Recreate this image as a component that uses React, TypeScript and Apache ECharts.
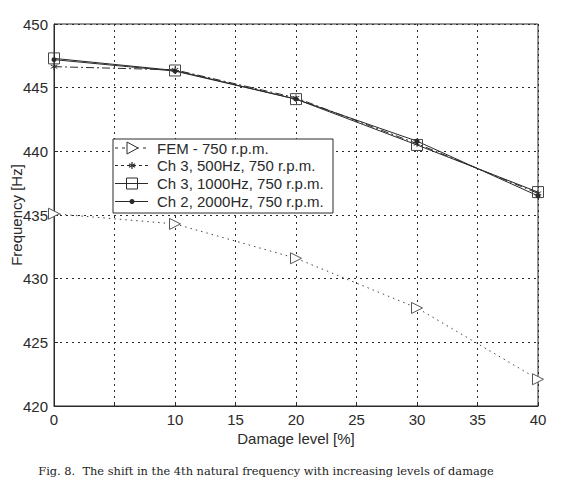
import React, { useEffect, useRef } from "react";
import * as echarts from "echarts";

// Damage levels in percent
const damageLevels = [0, 10, 20, 30, 40];

// 4th natural frequency [Hz] for each data set
const femValues = [435.1, 434.3, 431.6, 427.7, 422.1];
const ch3At500Hz = [446.65, 446.4, 444.2, 440.6, 436.7];
const ch3At1000Hz = [447.3, 446.35, 444.1, 440.5, 436.8];
const ch2At2000Hz = [447.2, 446.3, 444.1, 440.8, 436.5];

const seriesNames = [
  "FEM - 750 r.p.m.",
  "Ch 3, 500Hz, 750 r.p.m.",
  "Ch 3, 1000Hz, 750 r.p.m.",
  "Ch 2, 2000Hz, 750 r.p.m.",
];

// x tick labels; the 5 % tick is left unlabelled
const xTickLabels: Record<number, string> = {
  0: "0", 5: "", 10: "10", 15: "15", 20: "20", 25: "25", 30: "30", 35: "35", 40: "40",
};

const captionText =
  "Fig. 8.  The shift in the 4th natural frequency with increasing levels of damage";

const ASTERISK =
  "path://M4.5,0h1v3.8l3.3,-1.9l0.5,0.9l-3.3,1.9l3.3,1.9l-0.5,0.9l-3.3,-1.9v3.8h-1v-3.8l-3.3,1.9l-0.5,-0.9l3.3,-1.9l-3.3,-1.9l0.5,-0.9l3.3,1.9z";

const INK = "#2a2a2a";
const FONT = "'Liberation Sans', Arial, sans-serif";

// line dash patterns shared by the plot lines and the key
const DASH_FEM = [1.5, 4];
const DASH_500 = [8, 3, 2, 3];

function pairs(values: number[]) {
  return damageLevels.map((d, i) => [d, values[i]]);
}

// Hand-built key box: sample line, marker and label per row
function buildKey() {
  const boxX = 113;
  const boxY = 139;
  const boxW = 220;
  const boxH = 74;
  const rowY = [148, 165.5, 183.5, 201.5];
  const lineX0 = 115;
  const lineX1 = 148;
  const markX = 132;
  const textX = 157;
  const els: any[] = [
    {
      type: "rect",
      shape: { x: boxX, y: boxY, width: boxW, height: boxH },
      style: { fill: "#ffffff", stroke: INK, lineWidth: 1 },
      z: 10,
    },
  ];
  const dashes: (number[] | null)[] = [[3, 4], [3, 3], null, null];
  rowY.forEach((y, i) => {
    els.push({
      type: "line",
      shape: { x1: lineX0, y1: y, x2: lineX1, y2: y },
      style: { stroke: INK, lineWidth: 1, lineDash: dashes[i] || undefined },
      z: 11,
    });
    els.push({
      type: "text",
      x: textX,
      y,
      style: {
        text: seriesNames[i],
        fontFamily: FONT,
        fontSize: 15,
        fill: INK,
        verticalAlign: "middle",
      },
      z: 11,
    });
  });
  // FEM: hollow right-pointing triangle
  els.push({
    type: "polygon",
    shape: { points: [[markX - 5, rowY[0] - 6], [markX + 6, rowY[0]], [markX - 5, rowY[0] + 6]] },
    style: { fill: "#ffffff", stroke: INK, lineWidth: 1 },
    z: 12,
  });
  // 500 Hz: asterisk
  [0, 60, 120].forEach((a) => {
    const r = (a * Math.PI) / 180;
    els.push({
      type: "line",
      shape: {
        x1: markX - 3.5 * Math.sin(r),
        y1: rowY[1] - 3.5 * Math.cos(r),
        x2: markX + 3.5 * Math.sin(r),
        y2: rowY[1] + 3.5 * Math.cos(r),
      },
      style: { stroke: INK, lineWidth: 1.2 },
      z: 12,
    });
  });
  // 1000 Hz: hollow square
  els.push({
    type: "rect",
    shape: { x: markX - 5.5, y: rowY[2] - 5.5, width: 11, height: 11 },
    style: { fill: "#ffffff", stroke: INK, lineWidth: 1 },
    z: 12,
  });
  els.push({
    type: "line",
    shape: { x1: markX - 5.5, y1: rowY[2], x2: markX + 5.5, y2: rowY[2] },
    style: { stroke: INK, lineWidth: 1 },
    z: 13,
  });
  // 2000 Hz: filled dot
  els.push({
    type: "circle",
    shape: { cx: markX, cy: rowY[3], r: 2.5 },
    style: { fill: INK },
    z: 12,
  });
  return els;
}

export default function App() {
  const ref = useRef<HTMLDivElement>(null);

  useEffect(() => {
    if (!ref.current) return;
    const chart = echarts.init(ref.current, null, { renderer: "svg" });
    chart.setOption({
      animation: false,
      backgroundColor: "#ffffff",
      grid: {
        left: 54,
        right: 29,
        top: 24,
        bottom: 82,
        outerBoundsMode: "none",
        containLabel: false,
        show: true,
        borderColor: INK,
        borderWidth: 1,
      },
      xAxis: {
        type: "value",
        min: 0,
        max: 40,
        interval: 5,
        name: "Damage level [%]",
        nameLocation: "middle",
        nameGap: 25,
        nameMoveOverlap: false,
        nameTextStyle: { fontFamily: FONT, fontSize: 15, color: INK },
        axisLine: { show: true, lineStyle: { color: INK } },
        axisTick: { show: true, inside: true, length: 4, lineStyle: { color: INK } },
        axisLabel: {
          fontFamily: FONT,
          fontSize: 15,
          color: INK,
          margin: 6,
          formatter: (v: number) => xTickLabels[v] ?? String(v),
        },
        splitLine: { show: true, lineStyle: { color: INK, type: [2, 4], width: 1 } },
      },
      yAxis: {
        type: "value",
        min: 420,
        max: 450,
        interval: 5,
        name: "Frequency [Hz]",
        nameLocation: "middle",
        nameGap: 30,
        nameMoveOverlap: false,
        nameTextStyle: { fontFamily: FONT, fontSize: 15, color: INK },
        axisLine: { show: true, lineStyle: { color: INK } },
        axisTick: { show: true, inside: true, length: 4, lineStyle: { color: INK } },
        axisLabel: { fontFamily: FONT, fontSize: 15, color: INK, margin: 6 },
        splitLine: { show: true, lineStyle: { color: INK, type: [2, 4], width: 1 } },
      },
      series: [
        {
          name: seriesNames[0],
          type: "line",
          data: pairs(femValues),
          symbol: "triangle",
          symbolRotate: -90,
          symbolSize: 11,
          itemStyle: { color: "#ffffff", borderColor: "#555", borderWidth: 1 },
          lineStyle: { color: "#444", width: 1, type: DASH_FEM },
        },
        {
          name: seriesNames[1],
          type: "line",
          data: pairs(ch3At500Hz),
          symbol: ASTERISK,
          symbolSize: 7,
          itemStyle: { color: INK },
          lineStyle: { color: INK, width: 1, type: DASH_500 },
        },
        {
          name: seriesNames[2],
          type: "line",
          data: pairs(ch3At1000Hz),
          symbol: "rect",
          symbolSize: 11,
          itemStyle: { color: "rgba(255,255,255,0)", borderColor: "#444", borderWidth: 1 },
          lineStyle: { color: INK, width: 1 },
        },
        {
          name: seriesNames[3],
          type: "line",
          data: pairs(ch2At2000Hz),
          symbol: "circle",
          symbolSize: 5,
          itemStyle: { color: INK },
          lineStyle: { color: INK, width: 1 },
        },
      ],
      graphic: [
        ...buildKey(),
        {
          type: "text",
          x: 266,
          y: 471,
          style: {
            text: captionText,
            fontFamily: "'DejaVu Serif', 'Liberation Serif', serif",
            fontSize: 11.4,
            fill: "#222",
            align: "center",
            verticalAlign: "middle",
          },
        },
      ],
    });
    return () => chart.dispose();
  }, []);

  return (
    <div
      ref={ref}
      style={{ position: "absolute", left: 0, top: 0, width: 567, height: 488 }}
    />
  );
}
